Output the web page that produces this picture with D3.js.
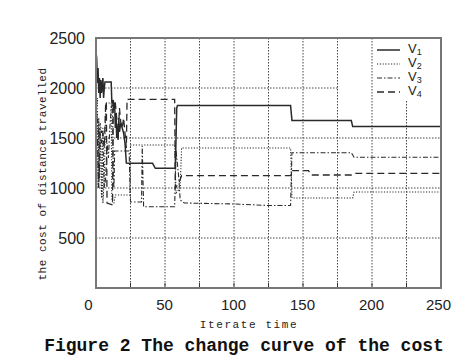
<!DOCTYPE html>
<html><head><meta charset="utf-8">
<script src="https://cdn.jsdelivr.net/npm/d3@7"></script>
<style>
html,body{margin:0;padding:0;background:#fff;}
svg{display:block;}
</style></head>
<body>
<svg id="chart" width="474" height="358"></svg>
<script>
// ---- data ----
const seriesNames = ["V1","V2","V3","V4"];
const xTicks = [0,50,100,150,200,250];
const yTicks = [500,1000,1500,2000,2500];
const xGrid = [25,50,75,100,125,150,175,200,225];
const yGrid = [500,1000,1500,2000];

const v1T = [0,0.5,1,1.5,2,2.5,3,3.5,4,5,5.5,6,6.5,11,11.5,12.5,13,13.5,14,14.5,15,15.5,16,16.5,17,18,19,20,21,22,24,41,43,57.5,58,58.5,59,141,142,185,186,250];
const v1V = [2360,2300,2050,2200,1950,2100,1900,2080,1950,2100,1900,2000,2060,2060,1850,1880,1780,1850,1600,1750,1500,1620,1480,1700,1560,1650,1600,1550,1450,1250,1247,1247,1197,1197,1500,1800,1824,1824,1674,1674,1614,1614];

const v2T = [0,1,1.5,2,2.5,3,4,4.5,5,6,7,7.5,11,11.5,12,13,14,24.5,25,57,58,61,62,141,142,186,187,250];
const v2V = [1750,1900,1000,1700,1100,1600,900,1500,850,1100,1800,1850,1850,900,850,850,930,930,1430,1430,950,1000,1400,1400,900,900,960,960];

const v3T = [0,1,2,3,4,5,5.5,6,7,8,9,10,11,12,12.5,13,13.5,24,25,33,33.5,34.5,57,58,60,61,64,100,125,141,142,185,187,250];
const v3V = [1800,1700,1500,1650,1550,1600,1200,1000,1100,1450,1300,1600,1800,1850,1100,1000,1370,1370,860,860,1420,813,813,1380,1100,880,850,840,825,825,1353,1353,1307,1307];

const v4T = [0,1,2,3,4,5,6,7,7.5,8,12,12.5,14,15,16,17,18,19,20,21,22,22.5,57,57.5,60,62,141,142,154,156,185,187,250];
const v4V = [1600,1500,1000,1550,1450,1550,1400,1850,1863,850,830,1850,1850,1700,1500,1800,1650,1600,1700,1550,1400,1887,1887,1000,1050,1123,1123,1173,1173,1130,1130,1147,1147];

const seriesT = [v1T,v2T,v3T,v4T];
const seriesV = [v1V,v2V,v3V,v4V];

// ---- drawing ----
const svg = d3.select("#chart");
const L = 96, R = 441, T = 38, B = 288;
const x = d3.scaleLinear().domain([0,250]).range([L,R]);
const y = d3.scaleLinear().domain([0,2500]).range([B,T]);

const gridColor = "#444";
const dashes = [null, "1.2,1.6", "5,2,1.5,2", "7,4"];
const widths = [1.5, 1.1, 1.1, 1.3];

// horizontal grid
svg.append("g").selectAll("line").data(yGrid).join("line")
  .attr("x1",L).attr("x2",R).attr("y1",d=>y(d)).attr("y2",d=>y(d))
  .attr("stroke",gridColor).attr("stroke-width",1).attr("stroke-dasharray","1.5,1.5");

// data lines
const line = d3.line().x(d=>x(d[0])).y(d=>y(d[1]));
const gLines = svg.append("g");
seriesT.forEach((ts,i)=>{
  const pts = ts.map((t,j)=>[t, seriesV[i][j]]);
  gLines.append("path").datum(pts).attr("d",line)
    .attr("fill","none").attr("stroke","#2a2a2a")
    .attr("stroke-width",widths[i])
    .attr("stroke-dasharray",dashes[i]);
});

// legend background
const legX = 338, legY = T, legW = R-338, legH = 63;
svg.append("rect").attr("x",legX).attr("y",legY).attr("width",legW).attr("height",legH).attr("fill","#fff");

// vertical grid
svg.append("g").selectAll("line").data(xGrid).join("line")
  .attr("x1",d=>x(d)).attr("x2",d=>x(d))
  .attr("y1",d=> (x(d)>legX+40 ? legY+legH : T)).attr("y2",B)
  .attr("stroke",gridColor).attr("stroke-width",1).attr("stroke-dasharray","1.5,1.5");

// small inner ticks at bottom
svg.append("g").selectAll("line").data(xGrid).join("line")
  .attr("x1",d=>x(d)).attr("x2",d=>x(d)).attr("y1",B).attr("y2",B-5)
  .attr("stroke","#333").attr("stroke-width",1);

// legend entries
const leg = svg.append("g");
seriesNames.forEach((n,i)=>{
  const ly = [50,64,78,92][i];
  leg.append("line").attr("x1",377).attr("x2",400).attr("y1",ly).attr("y2",ly)
    .attr("stroke","#2a2a2a").attr("stroke-width",widths[i]).attr("stroke-dasharray",dashes[i]);
  const t = leg.append("text").attr("x",408).attr("y",ly+3)
    .attr("font-family","Liberation Sans, Arial, sans-serif").attr("font-size",13).attr("fill","#222");
  t.append("tspan").text(n[0]);
  t.append("tspan").attr("dy",2).attr("font-size",9).text(n.slice(1));
});

// frame
svg.append("rect").attr("x",L).attr("y",T).attr("width",R-L).attr("height",B-T)
  .attr("fill","none").attr("stroke","#777").attr("stroke-width",2);

// axes labels via d3 axes
const xAxis = svg.append("g").attr("transform",`translate(0,${B})`)
  .call(d3.axisBottom(x).tickValues(xTicks).tickFormat(d3.format("d")).tickSize(0).tickPadding(11));
xAxis.select(".domain").remove();
xAxis.selectAll("text").attr("font-family","Liberation Sans, Arial, sans-serif").attr("font-size",15).attr("fill","#222")
  .attr("dx",d=> d===0 ? -8 : (d===250 ? -3 : -1));

const yAxis = svg.append("g").attr("transform",`translate(${L},0)`)
  .call(d3.axisLeft(y).tickValues(yTicks).tickFormat(d3.format("d")).tickSize(0).tickPadding(11));
yAxis.select(".domain").remove();
yAxis.selectAll("text").attr("font-family","Liberation Sans, Arial, sans-serif").attr("font-size",16).attr("fill","#222");

// axis titles
svg.append("text").attr("x",249).attr("y",328).attr("text-anchor","middle")
  .attr("font-family","Liberation Mono, monospace").attr("font-size",11).attr("letter-spacing",1.6)
  .attr("fill","#222").text("Iterate time");
svg.append("text").attr("transform","translate(46,174) rotate(-90)").attr("text-anchor","middle")
  .attr("font-family","Liberation Mono, monospace").attr("font-size",11).attr("letter-spacing",0.5)
  .attr("fill","#222").text("the cost of distance travelled");

// figure caption
svg.append("text").attr("x",244).attr("y",351).attr("text-anchor","middle")
  .attr("font-family","Liberation Mono, monospace").attr("font-size",18).attr("font-weight","bold")
  .attr("fill","#111").text("Figure 2 The change curve of the cost");
</script>
</body></html>
